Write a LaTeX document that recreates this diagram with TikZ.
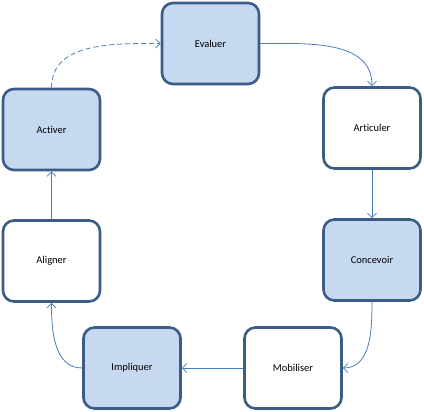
\documentclass[tikz,border=0pt]{standalone}
\usepackage{fontspec}
\setmainfont[Ligatures={NoCommon}]{Carlito}
\usetikzlibrary{arrows.meta}
\definecolor{rimblue}{HTML}{3B5C86}
\definecolor{fillblue}{HTML}{C6D9F1}
\definecolor{linkblue}{HTML}{4A7EBB}
\begin{document}
\begin{tikzpicture}[x=1bp, y=1bp, >={Straight Barb[length=4.5bp,width=9bp]},
  step box/.style={draw=rimblue, line width=2.6bp, rounded corners=11bp,
    minimum width=97bp, minimum height=81bp, fill=white,
    font=\fontsize{10.5}{12}\selectfont},
  shaded/.style={step box, fill=fillblue},
  link/.style={->, draw=linkblue, line width=0.8bp}]
\useasboundingbox (0,0) rectangle (424,412);

\node[shaded] (evaluer) at (210.5,368.5){Evaluer};
\node[step box] (articuler) at (372,284){Articuler};
\node[shaded] (concevoir) at (372,152){Concevoir};
\node[step box] (mobiliser) at (293,44){Mobiliser};
\node[shaded] (impliquer) at (132,44){Impliquer};
\node[step box] (aligner) at (51.5,151){Aligner};
\node[shaded] (activer) at (51.5,282.5){Activer};

\draw[link](evaluer.east)to[out=0, in=90](articuler.north);
\draw[link](articuler)--(concevoir);
\draw[link](concevoir.south)to[out=-90, in=0](mobiliser.east);
\draw[link](mobiliser)--(impliquer);
\draw[link](impliquer.west)to[out=180, in=-90](aligner.south);
\draw[link](aligner)--(activer);
\draw[link, dash pattern=on 5bp off 3bp](activer.north)to[out=90, in=180](evaluer.west);
\end{tikzpicture}
\end{document}
